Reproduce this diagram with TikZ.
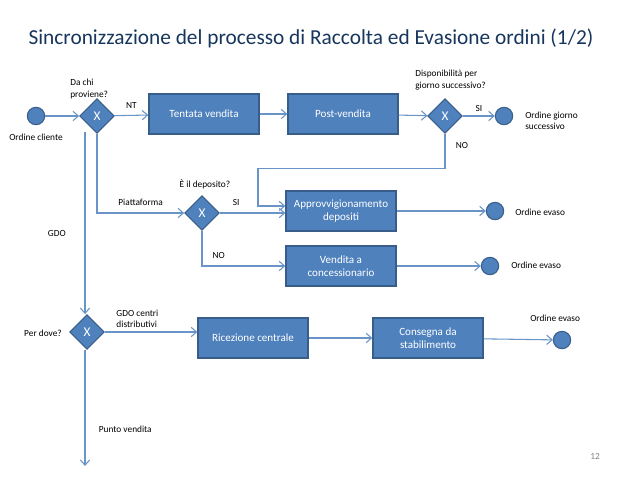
\documentclass[tikz,border=0pt]{standalone}
\usepackage{fontspec}
\setmainfont{Carlito}
\usetikzlibrary{shapes.geometric,arrows.meta}
\definecolor{bfill}{HTML}{4F81BD}
\definecolor{bdraw}{HTML}{385D8A}
\definecolor{ttl}{HTML}{17365D}
\begin{document}
\begin{tikzpicture}[x=0.75pt,y=-0.75pt,
 box/.style={draw=bdraw,line width=1pt,fill=bfill,text=white,minimum width=82.5pt,minimum height=30pt,align=center,font=\fontsize{8.3}{10}\selectfont,inner sep=1pt},
 gw/.style={diamond,draw=bdraw,line width=0.8pt,fill=bfill,text=white,minimum width=26pt,minimum height=26pt,inner sep=0pt,font=\fontsize{10}{12}\selectfont},
 ev/.style={circle,draw=bdraw,line width=0.8pt,fill=bfill,minimum size=13pt,inner sep=0pt},
 lbl/.style={font=\fontsize{7}{8.5}\selectfont,align=left,inner sep=0pt},
 ln/.style={draw=bfill!85!white,line width=0.8pt,-{Straight Barb[length=4pt,width=7pt]}}]
\useasboundingbox (0,0) rectangle (638,479);
\node[font=\fontsize{16}{18}\selectfont,text=ttl] (title) at (311,38) {Sincronizzazione del processo di Raccolta ed Evasione ordini (1/2)};
\node[ev] (s) at (36,116) {};
\node[lbl] (ls) at (36,137) {Ordine cliente};
\node[gw] (g1) at (97,116) {X};
\node[lbl,anchor=west] (l1) at (70,89) {Da chi\\proviene?};
\node[box] (tv) at (204,114) {Tentata vendita};
\node[box] (pv) at (343,114) {Post-vendita};
\node[gw] (g2) at (445,116) {X};
\node[lbl,anchor=west] (l2) at (415,80) {Disponibilità per\\giorno successivo?};
\node[ev] (e1) at (504,116) {};
\node[lbl,anchor=west] (le1) at (525,121) {Ordine giorno\\successivo};
\node[box] (ap) at (341,211) {Approvvigionamento\\depositi};
\node[gw] (g3) at (202,213) {X};
\node[lbl] (l3) at (205,184) {È il deposito?};
\node[ev] (e2) at (495,211) {};
\node[lbl,anchor=west] (le2) at (515,212) {Ordine evaso};
\node[box] (vc) at (341,266) {Vendita a\\concessionario};
\node[ev] (e3) at (490,266) {};
\node[lbl,anchor=west] (le3) at (511,265) {Ordine evaso};
\node[gw] (g4) at (87,332) {X};
\node[lbl] (l4) at (43,333) {Per dove?};
\node[box] (rc) at (253,338) {Ricezione centrale};
\node[box] (cs) at (428,338) {Consegna da\\stabilimento};
\node[ev] (e4) at (562,340) {};
\node[lbl,anchor=west] (le4) at (530,318) {Ordine evaso};
\coordinate (pend) at (85,466);
\draw[ln] (s) -- (g1);
\draw[ln] (g1) -- node[lbl,above=5pt] {NT} (tv);
\draw[ln] (tv) -- (pv);
\draw[ln] (pv) -- (g2);
\draw[ln] (g2) -- node[lbl,above=3pt] {SI} (e1);
\draw[ln] (g2.south) -- ++(0,35) -- ++(-187,0) |- (ap.west|-0,206);
\node[lbl] at (462,145) {NO};
\draw[ln] (g1.south) |- node[lbl,pos=0.75,above=5pt] {Piattaforma} (g3.west);
\draw[ln] (g3.east) -- node[lbl,pos=0.25,above=5pt] {SI} (g3.east-|ap.west);
\draw[ln] (ap) -- (e2);
\draw[ln] (g3.south) |- node[lbl,pos=0.6,above=5pt] {NO} (vc.west);
\draw[ln] (vc) -- (e3);
\draw[ln] (85,132) -- node[lbl,pos=0.56,left=14pt] {GDO} (g4.north-|85,0);
\draw[ln] (g4.east) -- node[lbl,pos=0.12,above=3pt,anchor=south west] {GDO centri\\distributivi} (g4.east-|rc.west);
\draw[ln] (rc) -- (cs);
\draw[ln] (cs) -- (e4);
\draw[ln] (g4.south-|85,0) -- node[lbl,pos=0.68,right=10pt] {Punto vendita} (pend);
\node[font=\fontsize{7}{8}\selectfont,text=gray] (pn) at (595,456) {12};
\end{tikzpicture}
\end{document}
